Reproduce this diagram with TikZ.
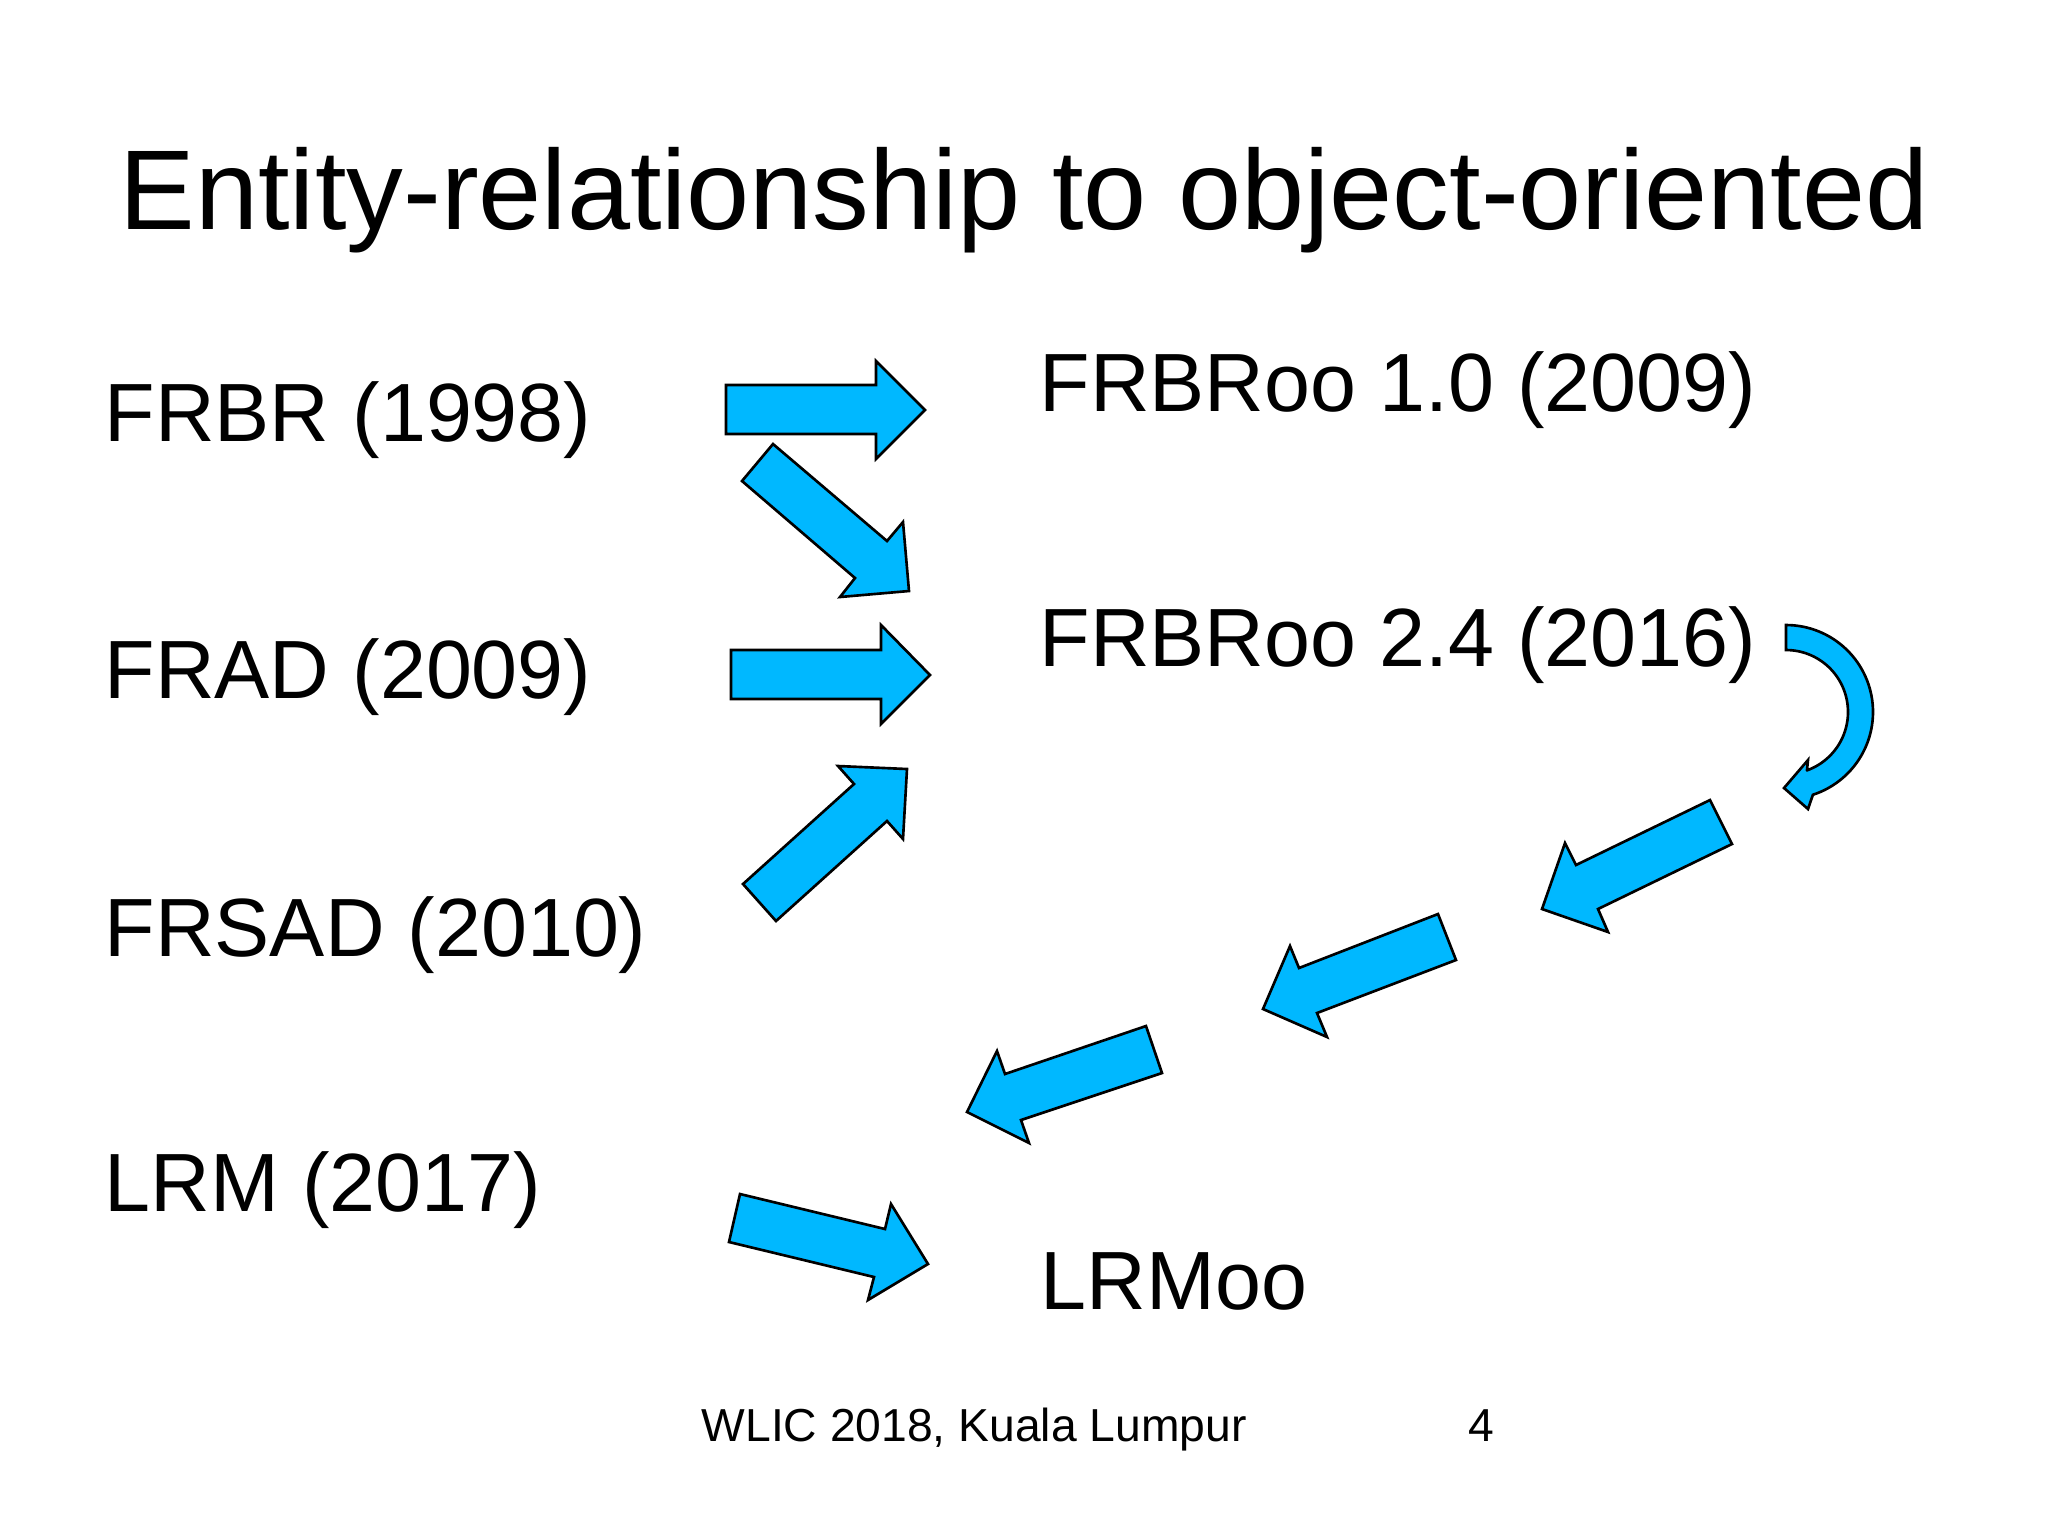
\documentclass[tikz,border=0pt]{standalone}
\usepackage{fontspec}
\setmainfont{Liberation Sans}
\definecolor{arrowblue}{RGB}{0,184,255}
\begin{document}
\begin{tikzpicture}[x=0.01cm, y=-0.01cm,
  title/.style={anchor=base west, inner sep=0pt, font=\fontsize{32.25pt}{38pt}\selectfont},
  label/.style={anchor=base west, inner sep=0pt, font=\fontsize{23.5pt}{28pt}\selectfont},
  footer/.style={anchor=base west, inner sep=0pt, font=\fontsize{13.15pt}{15pt}\selectfont},
  blockarrow/.style={fill=arrowblue, draw=black, line width=0.75pt, line join=miter}]
\fill[white] (0,0) rectangle (2048,1535);
\useasboundingbox (0,0) rectangle (2048,1535);

% title
\node[title] (title) at (119,229) {Entity-relationship to object-oriented};

% left labels
\node[label] (frbr)  at (104,441)  {FRBR (1998)};
\node[label] (frad)  at (104,698)  {FRAD (2009)};
\node[label] (frsad) at (104,956)  {FRSAD (2010)};
\node[label] (lrm)   at (104,1211) {LRM (2017)};

% right labels
\node[label] (frbroo1) at (1039,411)  {FRBRoo 1.0 (2009)};
\node[label] (frbroo2) at (1039,666)  {FRBRoo 2.4 (2016)};
\node[label] (lrmoo)   at (1040,1309) {LRMoo};

% footer
\node[footer] (foot) at (701,1441) {WLIC 2018, Kuala Lumpur};
\node[footer] (page) at (1468,1441) {4};

% FRBR -> FRBRoo 1.0
\draw[blockarrow] (726,385) -- (876,385) -- (876,361) -- (925,410) -- (876,459) -- (876,434) -- (726,434) -- cycle;
% FRBR -> FRBRoo 2.4
\draw[blockarrow] (773,444) -- (887,541) -- (903,522) -- (909,591) -- (840,597) -- (855,578) -- (742,481) -- cycle;
% FRAD -> FRBRoo 2.4
\draw[blockarrow] (731,650) -- (881,650) -- (881,625) -- (930,675) -- (881,724) -- (881,699) -- (731,699) -- cycle;
% FRSAD -> FRBRoo 2.4
\draw[blockarrow] (743,884) -- (854,784) -- (838,766) -- (907,769) -- (903,839) -- (887,821) -- (776,921) -- cycle;

% curved arrow
\draw[blockarrow] plot[domain=90:-72, samples=60] ({1786+87*cos(\x)},{712-87*sin(\x)})
  -- (1808,809) -- (1784,788) -- (1808,760) -- (1807,770)
  -- plot[domain=-70:90, samples=60] ({1786+62*cos(\x)},{712-62*sin(\x)}) -- cycle;

% descending arrows
\draw[blockarrow] (1710,800) -- (1576,865) -- (1565,843) -- (1542,909) -- (1608,932) -- (1598,909) -- (1732,844) -- cycle;
\draw[blockarrow] (1438,914) -- (1299,968) -- (1290,946) -- (1263,1009) -- (1327,1037) -- (1317,1013) -- (1456,960) -- cycle;
\draw[blockarrow] (1146,1026) -- (1005,1074) -- (997,1051) -- (967,1112) -- (1029,1143) -- (1021,1120) -- (1162,1073) -- cycle;

% LRM -> LRMoo
\draw[blockarrow] (740,1194) -- (885,1229) -- (891,1204) -- (928,1264) -- (868,1300) -- (874,1277) -- (729,1242) -- cycle;
\end{tikzpicture}
\end{document}
